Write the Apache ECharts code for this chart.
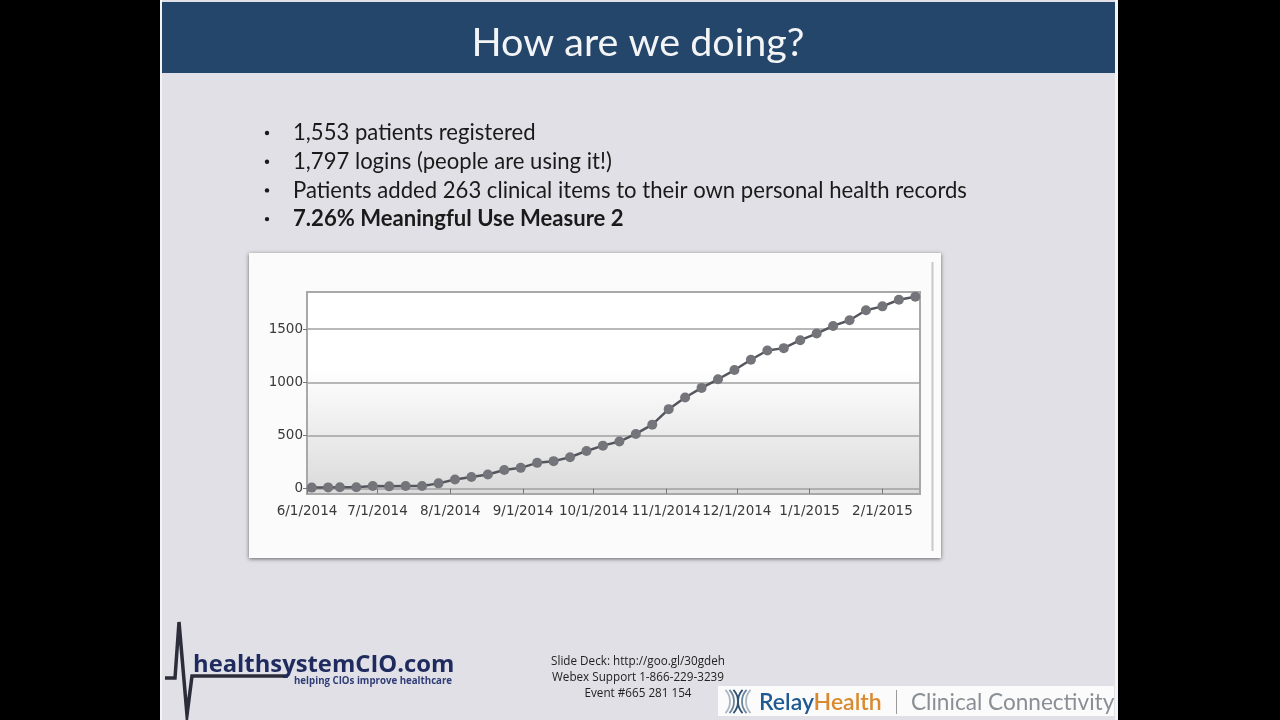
<!DOCTYPE html>
<html>
<head>
<meta charset="utf-8">
<title>How are we doing?</title>
<style>
  html, body { margin: 0; padding: 0; background: #000; }
  #chart { width: 1280px; height: 720px; }
</style>
<script src="https://cdn.jsdelivr.net/npm/echarts@6/dist/echarts.min.js"></script>
</head>
<body>
<div id="chart"></div>
<script>
var dates = [
  '2014-06-03', '2014-06-10', '2014-06-15', '2014-06-22', '2014-06-29',
  '2014-07-06', '2014-07-13', '2014-07-20', '2014-07-27', '2014-08-03',
  '2014-08-10', '2014-08-17', '2014-08-24', '2014-08-31', '2014-09-07',
  '2014-09-14', '2014-09-21', '2014-09-28', '2014-10-05', '2014-10-12',
  '2014-10-19', '2014-10-26', '2014-11-02', '2014-11-09', '2014-11-16',
  '2014-11-23', '2014-11-30', '2014-12-07', '2014-12-14', '2014-12-21',
  '2014-12-28', '2015-01-04', '2015-01-11', '2015-01-18', '2015-01-25',
  '2015-02-01', '2015-02-08', '2015-02-15'
];
var logins = [
  10, 12, 14, 14, 25, 22, 25, 25, 50, 87,
  110, 134, 175, 196, 243, 259, 296, 355, 405, 443,
  515, 602, 748, 858, 948, 1029, 1116, 1213, 1300, 1322,
  1397, 1459, 1531, 1584, 1678, 1715, 1777, 1805
];
var monthTicks = [
  '2014-06-01', '2014-07-01', '2014-08-01', '2014-09-01', '2014-10-01',
  '2014-11-01', '2014-12-01', '2015-01-01', '2015-02-01'
];
var valueTicks = [0, 500, 1000, 1500];
var bullets = [
  '1,553 patients registered',
  '1,797 logins (people are using it!)',
  'Patients added 263 clinical items to their own personal health records',
  '7.26% Meaningful Use Measure 2'
];
var footerLines = [
  'Slide Deck: http://goo.gl/30gdeh',
  'Webex Support 1-866-229-3239',
  'Event #665 281 154'
];

function toTime(s) {
  var p = s.split('-');
  return new Date(+p[0], +p[1] - 1, +p[2]).getTime();
}

var chart = echarts.init(document.getElementById('chart'), null, { renderer: 'canvas' });

var seriesData = dates.map(function(d, i) {
  return [toTime(d), logins[i]];
});

var bg = [
  // slide
  { type: 'rect', z: -10, shape: { x: 160, y: 0, width: 958, height: 720 }, style: { fill: '#f4f4f6' } },
  { type: 'rect', z: -9, shape: { x: 162, y: 0, width: 953, height: 720 }, style: { fill: '#e0e0e6' } },
  { type: 'rect', z: -8, shape: { x: 162, y: 2, width: 953, height: 71 }, style: { fill: '#25466b' } },
  { type: 'text', z: 5, style: { x: 638, y: 43, text: 'How are we doing?', fill: '#f2f4f6', font: '39.5px Lato', textAlign: 'center', textVerticalAlign: 'middle' } },
  // chart card
  { type: 'rect', z: -7, shape: { x: 249, y: 253, width: 692, height: 305 },
    style: { fill: '#fbfbfb', shadowBlur: 4, shadowColor: 'rgba(0,0,0,0.55)', shadowOffsetY: 1 } },
  { type: 'line', z: -6, shape: { x1: 932.5, y1: 262, x2: 932.5, y2: 551 }, style: { stroke: '#c8c8c8', lineWidth: 2 } },
  // logo
  { type: 'polyline', z: 4, shape: { points: [[165, 678], [175, 678], [179, 622], [187, 715], [192, 676], [288, 676]] },
    style: { stroke: '#2c2c3a', lineWidth: 3.5, fill: 'none' } },
  { type: 'text', z: 5, style: { x: 193, y: 665, text: 'healthsystemCIO.com', fill: '#1f2a5e', font: 'bold 23.8px "Open Sans"', textVerticalAlign: 'middle' } },
  { type: 'text', z: 5, style: { x: 294, y: 681, text: 'helping CIOs improve healthcare', fill: '#2f3d78', font: 'bold 9.7px "Open Sans"', textVerticalAlign: 'middle' } },
  // sponsor strip
  { type: 'rect', z: -5, shape: { x: 718, y: 686, width: 396, height: 30 }, style: { fill: '#fbfbfb' } },
  { type: 'text', z: 5, style: { x: 759, y: 703, text: 'Relay', fill: '#1f5a93', font: '600 23px Lato', textVerticalAlign: 'middle' } },
  { type: 'text', z: 5, style: { x: 813.6, y: 703, text: 'Health', fill: '#d98a2f', font: '600 23px Lato', textVerticalAlign: 'middle' } },
  { type: 'line', z: 5, shape: { x1: 896.5, y1: 690, x2: 896.5, y2: 714 }, style: { stroke: '#9a9a9a', lineWidth: 1 } },
  { type: 'text', z: 5, style: { x: 911, y: 703, text: 'Clinical Connectivity', fill: '#8a8f95', font: '22.6px Lato', textVerticalAlign: 'middle' } }
];

// relay logo arcs, three each side bowing in to the middle
[[725, '#a9b8c6', 1], [729, '#6d8499', 1], [733, '#2f5270', 1],
 [743, '#2f5270', -1], [747, '#6d8499', -1], [751, '#a9b8c6', -1]].forEach(function(a) {
  bg.push({
    type: 'arc', z: 5,
    shape: { cx: a[0] + (a[2] > 0 ? -12 : 12), cy: 701.5, r: 17, startAngle: a[2] > 0 ? -0.75 : Math.PI - 0.75, endAngle: a[2] > 0 ? 0.75 : Math.PI + 0.75 },
    style: { stroke: a[1], fill: 'none', lineWidth: 1.8 }
  });
});

bullets.forEach(function(t, i) {
  var y = 133 + i * 28.7;
  bg.push({ type: 'circle', z: 5, shape: { cx: 267, cy: y, r: 2.2 }, style: { fill: '#1a1a1a' } });
  bg.push({ type: 'text', z: 5, style: { x: 293, y: y, text: t, fill: '#1a1a1a',
    font: (i === 3 ? 'bold ' : '') + '22.1px Lato', textVerticalAlign: 'middle' } });
});

footerLines.forEach(function(t, i) {
  bg.push({ type: 'text', z: 5, style: { x: 638, y: 662 + i * 15.7, text: t, fill: '#222', font: '11.7px "Open Sans"', textAlign: 'center', textVerticalAlign: 'middle' } });
});

var option = {
  animation: false,
  backgroundColor: '#000',
  graphic: { elements: bg },
  grid: {
    left: 307, right: 360, top: 292, bottom: 226,
    show: true,
    borderColor: '#a8a8a8',
    borderWidth: 2,
    backgroundColor: new echarts.graphic.LinearGradient(0, 0, 0, 1, [
      { offset: 0, color: '#ffffff' },
      { offset: 0.38, color: '#ffffff' },
      { offset: 1, color: '#dadada' }
    ])
  },
  xAxis: {
    type: 'value',
    min: toTime('2014-06-01'),
    max: toTime('2015-02-17'),
    axisLine: { show: false },
    axisTick: { show: true, length: 5, customValues: monthTicks.map(toTime), lineStyle: { color: '#777' } },
    splitLine: { show: false },
    axisLabel: {
      customValues: monthTicks.map(toTime),
      hideOverlap: false,
      showMinLabel: true,
      showMaxLabel: true,
      margin: 10,
      color: '#3a3a3a',
      fontFamily: 'DejaVu Sans',
      fontSize: 13.5,
      formatter: function(v) {
        var d = new Date(v);
        return (d.getMonth() + 1) + '/' + d.getDate() + '/' + d.getFullYear();
      }
    }
  },
  yAxis: {
    type: 'value',
    min: -50,
    max: 1850,
    axisLine: { show: false },
    axisTick: { show: true, length: 4, customValues: valueTicks, lineStyle: { color: '#777' } },
    axisLabel: {
      customValues: valueTicks,
      margin: 4,
      padding: [3, 0, 0, 0],
      color: '#3a3a3a',
      fontFamily: 'DejaVu Sans',
      fontSize: 13.5,
      formatter: function(v) { return String(v); }
    },
    splitLine: { show: true, lineStyle: { color: '#a0a0a0', width: 1.5 } }
  },
  series: [{
    type: 'line',
    data: seriesData,
    clip: false,
    symbol: 'circle',
    symbolSize: 10,
    lineStyle: { color: '#55555e', width: 2.5 },
    itemStyle: { color: '#74747b' }
  }]
};

chart.setOption(option);
</script>
</body>
</html>
